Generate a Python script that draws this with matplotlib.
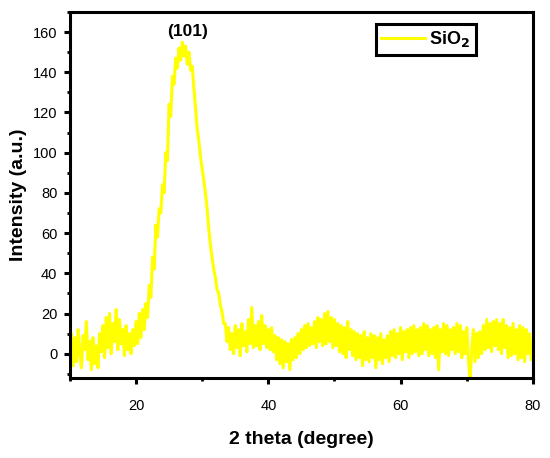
import matplotlib
matplotlib.use("Agg")
import matplotlib.pyplot as plt
import numpy as np
from matplotlib.ticker import MultipleLocator

plt.rcParams['font.family'] = ['Liberation Sans', 'DejaVu Sans']

# 2 theta from 10 to 80 in 0.25 steps, intensities
theta_start = 10.0
theta_step = 0.25
intensity = [
    2, 10, -6, 8,        # 10
    -4, 12, 0, -7,       # 11
    9, 2, 16, -3,        # 12
    6, -8, 8, -5,        # 13
    4, -7, 10, 1,        # 14
    14, -2, 18, 3,       # 15
    20, 0, 15, 6,        # 16
    22, 2, 17, 5,        # 17
    12, -1, 14, 2,       # 18
    10, 0, 12, 4,        # 19
    16, 5, 20, 8,        # 20
    22, 12, 25, 18,      # 21
    34, 28, 48, 42,      # 22
    64, 58, 72, 70,      # 23
    84, 80, 100, 96,     # 24
    124, 118, 138, 134,  # 25
    147, 142, 152, 146,  # 26
    155, 148, 153, 144,  # 27
    150, 141, 143, 132,  # 28
    122, 112, 106, 98,   # 29
    92, 86, 80, 72,      # 30
    62, 54, 48, 42,      # 31
    38, 32, 30, 24,      # 32
    21, 15, 15, 6,       # 33
    13, 2, 10, 0,        # 34
    14, 3, 12, -1,       # 35
    15, 4, 11, 1,        # 36
    17, 5, 23, 3,        # 37
    14, 4, 16, 2,        # 38
    19, 5, 14, 3,        # 39
    12, 2, 13, 1,        # 40
    9, -3, 8, -5,        # 41
    7, -7, 6, -4,        # 42
    5, -8, 7, -3,        # 43
    8, -2, 10, 0,        # 44
    12, 2, 14, 3,        # 45
    15, 4, 13, 5,        # 46
    16, 3, 18, 6,        # 47
    17, 4, 20, 5,        # 48
    21, 6, 18, 3,        # 49
    17, 4, 15, 1,        # 50
    14, 0, 13, -2,       # 51
    16, 2, 12, -1,       # 52
    11, -3, 10, -2,      # 53
    9, -6, 11, -3,       # 54
    8, -4, 10, -2,       # 55
    9, -7, 8, -3,        # 56
    10, -5, 7, -2,       # 57
    9, -4, 11, -1,       # 58
    12, -2, 10, 0,       # 59
    13, -3, 11, 1,       # 60
    12, -2, 13, 0,       # 61
    14, 1, 12, -1,       # 62
    13, 0, 15, 2,        # 63
    14, -1, 12, 0,       # 64
    13, -2, 14, -8,      # 65
    12, 1, 15, 0,        # 66
    14, -1, 12, 2,       # 67
    13, 0, 15, 1,        # 68
    14, -2, 11, 0,       # 69
    13, -3, -13, 2,      # 70
    12, -4, 10, -2,      # 71
    11, 0, 14, 2,        # 72
    17, 3, 15, 1,        # 73
    16, 4, 17, 2,        # 74
    15, 0, 17, 3,        # 75
    14, -2, 13, -1,      # 76
    15, 0, 12, -3,       # 77
    14, -2, 13, -4,      # 78
    12, 0, 10, -3,       # 79
    6,                   # 80
]
two_theta = theta_start + theta_step * np.arange(len(intensity))

series_label = 'SiO$_\\mathbf{2}$'
peak_label = '(101)'
peak_pos = (27.8, 160.5)

fig = plt.figure(figsize=(5.5, 4.58), dpi=100)
ax = fig.add_axes([0.127, 0.175, 0.842, 0.799])

ax.plot(two_theta, intensity, color='#FFFF00', lw=2.2, label=series_label)

ax.set_xlim(10, 80)
ax.set_ylim(-12, 170)
ax.xaxis.set_major_locator(MultipleLocator(20))
ax.xaxis.set_minor_locator(MultipleLocator(10))
ax.yaxis.set_major_locator(MultipleLocator(20))
ax.yaxis.set_minor_locator(MultipleLocator(10))

for s in ax.spines.values():
    s.set_linewidth(2.2)
ax.tick_params(which='major', direction='out', length=4, width=2.2, labelsize=10.5)
ax.tick_params(which='minor', direction='out', length=2.5, width=2.0)
ax.tick_params(axis='y', which='major', pad=5)
ax.tick_params(axis='x', which='major', pad=11)

ax.set_xlabel('2 theta (degree)', fontsize=14, fontweight='bold', labelpad=13)
ax.set_ylabel('Intensity (a.u.)', fontsize=14, fontweight='bold', labelpad=4)

ax.text(peak_pos[0], peak_pos[1], peak_label, ha='center', va='center',
        fontsize=12.5, fontweight='bold')

leg = ax.legend(loc='upper left', bbox_to_anchor=(0.661, 0.967), borderaxespad=0,
                fancybox=False, framealpha=1, edgecolor='black',
                prop={'weight': 'bold', 'size': 13}, handlelength=2.4,
                borderpad=0.3, handletextpad=0.25)
leg.get_frame().set_linewidth(2.2)

fig.savefig('out.png', dpi=100)
